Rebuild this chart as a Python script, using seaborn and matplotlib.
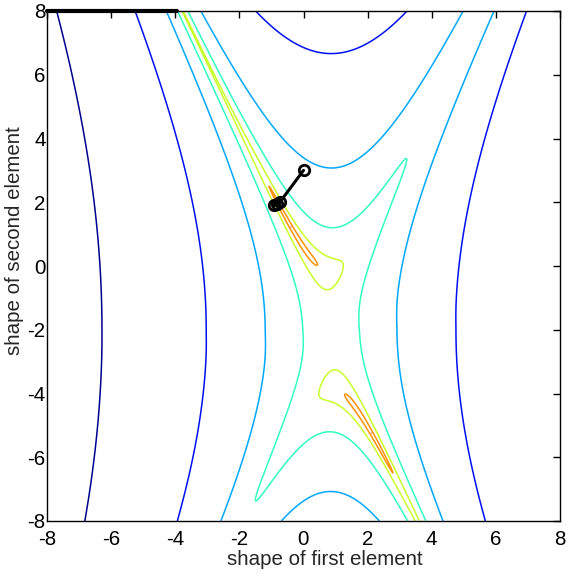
import numpy as np
import seaborn as sns
import matplotlib.pyplot as plt

# axis extent and ticks
x_lim = [-8, 8]
y_lim = [-8, 8]
ticks = [-8, -6, -4, -2, 0, 2, 4, 6, 8]

# contour levels and their colours (jet-like)
level_values = [-0.015, 1, 2, 3, 4, 5, 6]
level_colors = ['#00008f', '#0010f0', '#00a8ff', '#30ffc0', '#c8ff28', '#ff9000', '#ff1800']

# saddle / ridge model of the surface
center_x, center_y = 0.86, -2.0
saddle_slope2 = 0.222       # hyperbola u^2 - k v^2
saddle_shift = 0.75
surf_top, surf_scale = 3.38, 0.43
crest_base, crest_tilt, crest_width = 0.28, 1.73, 3.0
peak_pos, peak_height = -1.22, 5.7
peak_left, peak_right = 0.75, 1.15

# optimiser path (black line with circles)
path_x = [0.0, -0.74, -0.92, -0.84]
path_y = [3.0, 2.0, 1.90, 1.95]

# thick black piece along the top edge
edge_x = [-8, -3.95]
edge_y = [8, 8]

gx = np.linspace(x_lim[0], x_lim[1], 1200)
gy = np.linspace(y_lim[0], y_lim[1], 1200)
X, Y = np.meshgrid(gx, gy)
u = X - center_x
v = Y - center_y
q = u**2 - saddle_slope2 * v**2 + saddle_shift
w = u * np.tanh(v / 0.7)
gam = (peak_left + peak_right) / 2 + (peak_right - peak_left) / 2 * np.tanh((w - peak_pos) / 0.5)
lnE = crest_base + crest_tilt * np.tanh(w / crest_width) - peak_height / (1 + ((w - peak_pos) / gam)**2)
Z = surf_top - surf_scale * np.log(q**2 + np.exp(lnE))

sns.set_style('white')
plt.rcParams['font.family'] = ['Liberation Sans', 'DejaVu Sans']
plt.rcParams['axes.unicode_minus'] = False

fig = plt.figure(figsize=(5.7, 5.77), dpi=100)
ax = fig.add_axes([47 / 570, 1 - 521 / 577, 513 / 570, 510 / 577])

ax.contour(X, Y, Z, levels=level_values, colors=level_colors, linewidths=1.1)

sns.lineplot(x=path_x, y=path_y, sort=False, color='k', linewidth=2.2, marker='o',
             markersize=7.5, markerfacecolor='none', markeredgecolor='k',
             markeredgewidth=2, ax=ax)
ax.plot(edge_x, edge_y, color='k', linewidth=3, clip_on=False)

ax.set_xlim(x_lim)
ax.set_ylim(y_lim)
ax.set_xticks(ticks)
ax.set_yticks(ticks)
ax.tick_params(direction='in', top=True, right=True, length=5, width=1, labelsize=14.8, colors='k')
ax.tick_params(axis='y', pad=1)
ax.tick_params(axis='x', pad=6.5)
for s in ax.spines.values():
    s.set_color('k')
    s.set_linewidth(1)

ax.set_xlabel('shape of first element', fontsize=14.8)
ax.set_ylabel('shape of second element', fontsize=14.8)
ax.xaxis.set_label_coords(0.542, -0.056)
ax.yaxis.set_label_coords(-0.045, 0.549)

fig.savefig('out.png', dpi=100)
